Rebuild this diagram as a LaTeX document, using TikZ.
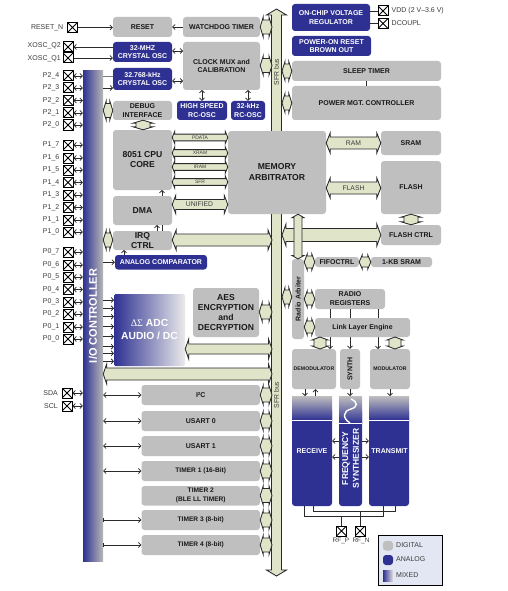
\documentclass[tikz,border=0pt]{standalone}
\usepackage{fontspec}
\usepackage{graphicx}
\setmainfont{Liberation Sans}
\newfontfamily\serifgr{Liberation Serif}
\usetikzlibrary{arrows.meta,calc}
\definecolor{dgray}{HTML}{BFBFBF}
\definecolor{mblue}{HTML}{2E3192}
\definecolor{buspale}{HTML}{E0E4C8}
\definecolor{linec}{HTML}{2A2A2A}
\definecolor{legbg}{HTML}{E3E7F3}
\definecolor{lbl}{HTML}{3C3C3C}
\tikzset{
 >={Straight Barb[length=2.4pt,width=5pt]},
 dig/.style={fill=dgray,rounded corners=3pt,inner sep=0pt,align=center,text=black!90,
   font=\bfseries\fontsize{7}{8.6}\selectfont},
 ana/.style={dig,fill=mblue,text=white},
 big/.style={font=\bfseries\fontsize{8.6}{10}\selectfont},
 mid/.style={font=\bfseries\fontsize{6.6}{8.8}\selectfont},
 tiny/.style={font=\bfseries\fontsize{5.2}{6}\selectfont},
 arr/.style={draw=linec,line width=.75pt},
 wire/.style={draw=linec,line width=.9pt},
 busstyle/.style={draw=linec,fill=buspale,line width=.85pt,line join=miter},
 pinbox/.style={draw=black,fill=white,line width=1pt,minimum size=10pt,inner sep=0pt,
   path picture={\draw[line width=.8pt,black] (path picture bounding box.north west)--(path picture bounding box.south east)
    (path picture bounding box.north east)--(path picture bounding box.south west);}},
 pinlabel/.style={inner sep=0pt,text=lbl,font=\fontsize{7}{8}\selectfont},
 buslabel/.style={inner sep=0pt,text=lbl,font=\fontsize{6.8}{8}\selectfont},
 fadebar/.style={inner sep=0pt,top color=dgray,bottom color=mblue},
}
% name, style, x0,y0,x1,y1, text
\newcommand\blk[7]{\node[#2,minimum width={(#5-#3)*1pt},minimum height={(#6-#4)*1pt}] (#1) at ({(#3+#5)/2},{(#4+#6)/2}) {#7};}
% A, B, y, body half, head half, head length
\newcommand\hbus[6]{\path[busstyle] let \p1=(#1),\p2=(#2) in
 (\x1,{-(#3)*1pt}) -- ({\x1+#6pt},{-(#3-#5)*1pt}) -- ({\x1+#6pt},{-(#3-#4)*1pt}) -- ({\x2-#6pt},{-(#3-#4)*1pt})
 -- ({\x2-#6pt},{-(#3-#5)*1pt}) -- (\x2,{-(#3)*1pt}) -- ({\x2-#6pt},{-(#3+#5)*1pt}) -- ({\x2-#6pt},{-(#3+#4)*1pt})
 -- ({\x1+#6pt},{-(#3+#4)*1pt}) -- ({\x1+#6pt},{-(#3+#5)*1pt}) -- cycle;}
% A(top), B(bottom), x, body half, head half, head length
\newcommand\vbus[6]{\path[busstyle] let \p1=(#1),\p2=(#2) in
 ({(#3)*1pt},\y1) -- ({(#3+#5)*1pt},{\y1-#6pt}) -- ({(#3+#4)*1pt},{\y1-#6pt}) -- ({(#3+#4)*1pt},{\y2+#6pt})
 -- ({(#3+#5)*1pt},{\y2+#6pt}) -- ({(#3)*1pt},\y2) -- ({(#3-#5)*1pt},{\y2+#6pt}) -- ({(#3-#4)*1pt},{\y2+#6pt})
 -- ({(#3-#4)*1pt},{\y1-#6pt}) -- ({(#3-#5)*1pt},{\y1-#6pt}) -- cycle;}
\begin{document}
\begin{tikzpicture}[x=1pt,y=-1pt]
\useasboundingbox (0,0) rectangle (507,591);
\fill[white] (0,0) rectangle (507,591);
\coordinate (sfrL) at (272,0);
\coordinate (sfrR) at (282,0);
\coordinate (sfrtop) at (276.5,9);
\coordinate (sfrbot) at (276.5,576);
\vbus{sfrtop}{sfrbot}{276.5}{5}{10}{6}
\node[buslabel,rotate=90] (sfrta) at (276.5,72) {SFR bus};
\node[buslabel,rotate=90] (sfrtb) at (276.5,395) {SFR bus};

% I/O controller
\node[inner sep=0pt,left color=mblue,right color=black!28,minimum width=20pt,minimum height=490pt] (ioc) at (93,316) {};
\node[rotate=90,inner sep=0pt,text=white,font=\bfseries\fontsize{11}{12}\selectfont] (ioct) at (93,316) {I/O CONTROLLER};

% pins
\foreach \pa/\pb/\py in {2/4/76,2/3/88,2/2/100.5,2/1/113,2/0/125,1/7/145,1/6/158,1/5/170,1/4/182.5,1/3/195,1/2/207.5,1/1/220,1/0/232,0/7/252,0/6/265,0/5/277,0/4/289.5,0/3/302,0/2/314,0/1/327,0/0/339}{
 \node[pinbox] (pin\pa\pb) at (68,\py) {};
 \node[pinlabel,anchor=east] (lab\pa\pb) at (59.5,\py) {P\pa\_\pb};
 \draw[arr,<->] (pin\pa\pb.east) -- (pin\pa\pb.east -| ioc.west);
}
\foreach \nm/\py in {SDA/393,SCL/406}{
 \node[pinbox] (pin\nm) at (67,\py) {};
 \node[pinlabel,anchor=east] (lab\nm) at (58,\py) {\nm};
 \draw[arr,<->] (pin\nm.east) -- (pin\nm.east -| ioc.west);
}

% top left
\node[pinbox] (prst) at (72.5,27.5) {};
\node[pinlabel,anchor=east] (lrst) at (63.5,28) {RESET\_N};
\blk{reset}{dig}{113}{17}{172}{37}{RESET}
\blk{wd}{dig}{183}{17}{260}{37}{WATCHDOG TIMER}
\draw[arr,->] (prst.east) -- (prst.east -| reset.west);
\draw[arr,->] (wd.west) -- (reset.east);
\node[pinbox] (pq2) at (68,47) {};
\node[pinbox] (pq1) at (68,58) {};
\node[pinlabel,anchor=east] (lq2) at (61,45.5) {XOSC\_Q2};
\node[pinlabel,anchor=east] (lq1) at (61,58.5) {XOSC\_Q1};
\blk{x32m}{ana}{113}{42}{172}{62}{32-MHZ\\CRYSTAL OSC}
\blk{x32k}{ana}{113}{68}{172}{90}{32.768-kHz\\CRYSTAL OSC}
\blk{cmux}{dig}{183}{42}{260}{90}{CLOCK MUX and\\CALIBRATION}
\draw[arr,<-] (pq2.east) -- (pq2.east -| x32m.west);
\draw[arr,->] (pq1.east) -- (pq1.east -| x32m.west);
\coordinate (k1) at (113,76);
\coordinate (k2) at (113,88);
\draw[line width=.9pt,draw=black!50] (k1 -| ioc.east) -- (k1);
\draw[arr,->] (k2 -| ioc.east) -- (k2);
\coordinate (m1) at (183,51);
\coordinate (m2) at (183,81);
\draw[arr,<->] (m1 -| x32m.east) -- (m1);
\draw[arr,<->] (m2 -| x32k.east) -- (m2);
\blk{hsrc}{ana}{177}{101}{227}{120}{HIGH SPEED\\RC-OSC}
\blk{krc}{ana}{231}{101}{265}{120}{32-kHz\\RC-OSC}
\coordinate (m3) at (202,90);
\coordinate (m4) at (248,90);
\draw[arr,<->] (m3 |- hsrc.north) -- (m3);
\draw[arr,<->] (m4 |- krc.north) -- (m4);
\hbus{wd.east}{sfrL}{27}{7}{10}{3}
\hbus{cmux.east}{sfrL}{65.5}{7}{9.5}{3}
\blk{dbg}{dig}{113}{101}{172}{120}{DEBUG\\INTERFACE}
\hbus{ioc.east}{dbg.west}{110.5}{7}{9.5}{3}
\blk{cpu}{dig,big}{113}{130}{172}{190}{8051 CPU\\CORE}
\vbus{dbg.south}{cpu.north}{143}{7}{10}{3}
\blk{dma}{dig,big}{113}{196}{172}{225}{DMA}
\blk{irq}{dig,big}{113}{231}{172}{250}{IRQ\\CTRL}
\blk{mem}{dig,font=\bfseries\fontsize{8.6}{11}\selectfont}{228}{131}{326}{214}{MEMORY\\ARBITRATOR}
\foreach \py/\bt in {137.5/PDATA,153/XRAM,167/IRAM,182/SFR}{
 \hbus{cpu.east}{mem.west}{\py}{3.4}{6}{2.5}
 \node[inner sep=0pt,text=lbl,font=\fontsize{5}{6}\selectfont] (b\bt) at (200,\py) {\bt};
}
\hbus{dma.east}{mem.west}{204.5}{5}{9}{3.5}
\node[buslabel] (bu) at (199.5,204.5) {UNIFIED};
\coordinate (a1) at (162,190);
\coordinate (a2) at (157,225);
\coordinate (a3) at (162,225);
\draw[arr,->] (a1 |- dma.north) -- (a1);
\draw[arr,->] (a2 |- irq.north) -- (a2);
\draw[arr] (a3 |- irq.north) -- (a3);
\hbus{ioc.east}{irq.west}{240}{7}{9.5}{3}
\hbus{irq.east}{sfrL}{240}{6}{10}{4}
\blk{acmp}{ana}{115}{255}{207}{269.5}{ANALOG COMPARATOR}
\draw[arr,->] (acmp.west -| ioc.east) -- (acmp.west);
\coordinate (a4) at (124,250);
\draw[arr,->] (a4 |- acmp.north) -- (a4);

% ADC
\node[inner sep=0pt,rounded corners=1.5pt,left color=mblue,right color=black!8,minimum width=71pt,minimum height=72pt,
  text=white,align=center,font=\bfseries\fontsize{10.3}{13}\selectfont] (adc) at (149.5,330) {{\serifgr\mdseries\fontsize{10}{13}\selectfont ΔΣ} ADC\\AUDIO / DC};
\foreach \py in {300,308.3,316.7,326.7,336.7,346.7,353.3,361.3}{
 \coordinate (q) at (114,\py);
 \draw[arr,->] (q -| ioc.east) -- (q);
}
\blk{aes}{dig,big}{193}{288}{259}{337}{AES\\ENCRYPTION\\and\\DECRYPTION}
\hbus{aes.east}{sfrL}{312}{7}{9.5}{3}
\hbus{adc.east}{sfrL}{349}{5}{10}{3.5}
\hbus{ioc.east}{sfrL}{374}{6}{10}{3.5}

% peripherals
\blk{i2c}{dig}{141.5}{385}{260}{405}{I\raisebox{2pt}{\fontsize{4.5}{5}\selectfont 2}C}
\blk{us0}{dig}{141.5}{411}{260}{431}{USART 0}
\blk{us1}{dig}{141.5}{436}{260}{456}{USART 1}
\blk{t1}{dig,mid}{141.5}{461}{260}{481}{TIMER 1 (16-Bit)}
\blk{t2}{dig,mid}{141.5}{486}{260}{505.5}{TIMER 2\\(BLE LL TIMER)}
\blk{t3}{dig,mid}{141.5}{510}{260}{530}{TIMER 3 (8-bit)}
\blk{t4}{dig,mid}{141.5}{535}{260}{555}{TIMER 4 (8-bit)}
\foreach \nm/\py in {i2c/395,us0/421,us1/446,t1/471,t2/495.5,t3/520,t4/545}{
 \hbus{\nm.east}{sfrL}{\py}{7}{9.5}{3}
}
\foreach \nm in {i2c,us0,us1,t1}{
 \draw[arr,<->] (\nm.west -| ioc.east) -- (\nm.west);
}
\foreach \nm in {t3,t4}{
 \draw[arr,{Bar[width=4pt,length=.6pt]}->] (\nm.west -| ioc.east) -- (\nm.west);
}

% top right
\blk{reg}{ana}{292}{4}{370}{31}{ON-CHIP VOLTAGE\\[1pt]REGULATOR}
\blk{por}{ana}{292}{36}{371}{56}{POWER-ON RESET\\BROWN OUT}
\blk{sleep}{dig}{292}{61}{441}{81}{SLEEP TIMER}
\blk{pmc}{dig}{292}{86}{441}{120}{POWER MGT. CONTROLLER}
\draw[wire] (sleep.south) -- (pmc.north);
\hbus{sfrR}{sleep.west}{71}{7}{9.5}{3}
\hbus{sfrR}{pmc.west}{103}{7}{9.5}{3}
\node[pinbox] (pvdd) at (383,11) {};
\node[pinbox] (pdec) at (383,23.5) {};
\draw[wire] (pvdd.west) -- (pvdd.west -| reg.east);
\draw[wire] (pdec.west) -- (pdec.west -| reg.east);
\node[pinlabel,anchor=west] (lvdd) at (391.5,10.5) {VDD (2 V–3.6 V)};
\node[pinlabel,anchor=west] (ldec) at (391.5,23.5) {DCOUPL};
\blk{sram}{dig}{381}{131}{441}{155}{SRAM}
\blk{flash}{dig}{381}{161}{441}{214}{FLASH}
\blk{fctrl}{dig}{381}{225}{441}{245}{FLASH CTRL}
\hbus{mem.east}{sram.west}{143}{6}{10}{4}
\hbus{mem.east}{flash.west}{188}{6}{10}{4}
\node[buslabel] (bram) at (353.5,143) {RAM};
\node[buslabel] (bfl) at (353.5,188) {FLASH};
\vbus{flash.south}{fctrl.north}{411}{7}{10}{3}
\hbus{sfrR}{fctrl.west}{235}{6.5}{11}{4}

% radio
\blk{rarb}{dig}{292}{259}{304}{339}{\rotatebox{90}{Radio Arbiter}}
\coordinate (r1) at (298,259);
\vbus{mem.south}{r1}{298}{4}{6}{3.5}
\hbus{sfrR}{rarb.west}{297}{7}{9.5}{3}
\blk{fifo}{dig}{315}{257}{359}{267}{FIFOCTRL}
\blk{kram}{dig}{371}{257}{432}{267}{1-KB SRAM}
\hbus{fifo.east}{kram.west}{262}{5}{7}{3}
\blk{rreg}{dig,font=\bfseries\fontsize{7}{9}\selectfont}{315}{289}{385}{309}{RADIO\\REGISTERS}
\blk{demod}{dig,tiny}{292}{349}{336}{389}{DEMODULATOR}
\blk{synth}{dig}{340}{349}{360}{389}{\rotatebox{90}{SYNTH}}
\blk{mod}{dig,tiny}{370}{349}{410}{389}{MODULATOR}
\coordinate (c1) at (330,349);
\coordinate (c3) at (378,349);
\draw[arr,->] (rreg.south -| c1) -- (c1);
\draw[arr,->] (rreg.south) -- (synth.north);
\draw[arr,->] (rreg.south -| c3) -- (c3);
\blk{lle}{dig}{315}{318}{410}{337}{Link Layer Engine}
\hbus{rarb.east}{fifo.west}{262}{6}{8}{3}
\hbus{rarb.east}{rreg.west}{299}{6}{8}{3}
\hbus{rarb.east}{lle.west}{327}{6}{8}{3}
\coordinate (c4) at (320,337);
\coordinate (c5) at (395,337);
\coordinate (c6) at (320,349);
\coordinate (c7) at (395,349);
\vbus{c4}{c6}{320}{6}{8}{3}
\vbus{c5}{c7}{395}{6}{8}{3}

% analog columns
\blk{recv}{ana}{292}{408}{332}{506}{}
\blk{freq}{ana}{339}{408}{362}{506}{}
\blk{tx}{ana}{369}{408}{409}{506}{}
\blk{recvt}{fadebar}{292}{396}{332}{420}{}
\blk{freqt}{fadebar}{339}{396}{362}{423}{}
\blk{txt}{fadebar}{369}{396}{409}{420}{}
\draw[white,line width=.6pt] (recvt.south west) -- (recvt.south east);
\draw[white,line width=.6pt] (freqt.south west) -- (freqt.south east);
\draw[white,line width=.6pt] (txt.south west) -- (txt.south east);
\node[inner sep=0pt,text=white,font=\bfseries\fontsize{7}{8}\selectfont] (lrecv) at (312,451.5) {RECEIVE};
\node[inner sep=0pt,text=white,font=\bfseries\fontsize{7}{8}\selectfont] (ltx) at (389.5,451.5) {TRANSMIT};
\node[inner sep=0pt,rotate=90,align=center,text=white,font=\bfseries\fontsize{8.5}{10.7}\selectfont] (lfreq) at (350.5,458.5) {FREQUENCY\\SYNTHESIZER};
\draw[white,line width=1.4pt] (351,399) .. controls (358,402) and (358,407) .. (351,409) .. controls (343,411) and (342,418) .. (350,423);
\coordinate (d1) at (305,396);
\coordinate (d2) at (315.5,396);
\coordinate (d3) at (350,396);
\coordinate (d4) at (390,396);
\draw[arr,->] (d1 |- demod.south) -- (d1);
\draw[arr,<-] (d2 |- demod.south) -- (d2);
\draw[arr,->] (d3 |- synth.south) -- (d3);
\draw[arr,->] (d4 |- mod.south) -- (d4);
\foreach \py in {441,457}{
 \coordinate (e) at (339,\py);
 \draw[arr,->] (e) -- (e -| recv.east);
 \coordinate (f) at (362,\py);
 \draw[arr,->] (f) -- (f -| tx.west);
}
\node[pinbox] (rfp) at (341.5,531) {};
\node[pinbox] (rfn) at (360,531) {};
\node[pinlabel,font=\fontsize{6.5}{8}\selectfont] (lrfp) at (341,541) {RF\_P};
\node[pinlabel,font=\fontsize{6.5}{8}\selectfont] (lrfn) at (361,541) {RF\_N};
\coordinate (g1) at (304,506);
\coordinate (g2) at (383.5,506);
\coordinate (g3) at (313,506);
\coordinate (g4) at (395,506);
\coordinate (h1) at (341.5,516);
\coordinate (h2) at (360,511);
\draw[wire] (g1) |- (h1) -- (rfp.north);
\draw[wire] (h1) -| (g2);
\draw[wire] (g3) |- (h2) -- (rfn.north);
\draw[wire] (h2) -| (g4);

% legend
\node[draw=black,fill=legbg,line width=.9pt,inner sep=0pt,minimum width=64pt,minimum height=50pt] (leg) at (410,560) {};
\blk{swd}{dig}{383}{541}{393}{550.5}{}
\blk{swa}{ana}{383}{555}{393}{565}{}
\node[inner sep=0pt,left color=mblue,right color=black!12,minimum width=10pt,minimum height=11pt] (swm) at (388,575.5) {};
\node[pinlabel,anchor=west] (ld) at (396,545.5) {DIGITAL};
\node[pinlabel,anchor=west] (la) at (396,559.5) {ANALOG};
\node[pinlabel,anchor=west] (lm) at (396,575.5) {MIXED};
\end{tikzpicture}
\end{document}
